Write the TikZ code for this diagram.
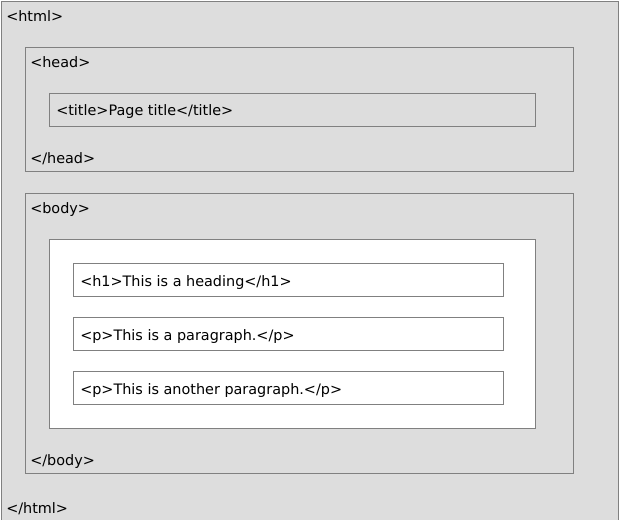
\documentclass[tikz,border=0pt]{standalone}
\usepackage{fontspec}
\setmainfont{DejaVu Sans}
\definecolor{boxgray}{HTML}{808080}
\definecolor{fillgray}{HTML}{DDDDDD}
\tikzset{
	box/.style={draw=boxgray, line width=0.75pt},
	tag/.style={anchor=base west, inner sep=0pt, font=\fontsize{10.8}{13}\selectfont, text=black}
}

\begin{document}
\begin{tikzpicture}[x=0.75pt, y=-0.75pt]
			%%%%% START %%%%%
			\useasboundingbox (0, 0) rectangle (622, 520);
			
			\draw[box, fill=fillgray] (1.5, 1.5) rectangle (618.5, 530);
			\node[tag] (htmlopen) at (6, 22) {<html>};
			\node[tag] (htmlclose) at (6, 513) {</html>};
			
			\draw[box] (25.5, 47.5) rectangle (573.5, 171.5);
			\node[tag] (headopen) at (30, 68) {<head>};
			\node[tag] (headclose) at (30, 164) {</head>};
			
			\draw[box] (49.5, 93.5) rectangle (535.5, 126.5);
			\node[tag] (title) at (56, 116) {<title>Page title</title>};
			
			\draw[box] (25.5, 193.5) rectangle (573.5, 473.5);
			\node[tag] (bodyopen) at (30, 214) {<body>};
			\node[tag] (bodyclose) at (30, 466) {</body>};
			
			\draw[box, fill=white] (49.5, 239.5) rectangle (535.5, 428.5);
			
			\draw[box] (73.5, 263.5) rectangle (503.5, 296.5);
			\node[tag] (heading) at (80, 287) {<h1>This is a heading</h1>};
			
			\draw[box] (73.5, 317.5) rectangle (503.5, 350.5);
			\node[tag] (para) at (80, 341) {<p>This is a paragraph.</p>};
			
			\draw[box] (73.5, 371.5) rectangle (503.5, 404.5);
			\node[tag] (parb) at (80, 395) {<p>This is another paragraph.</p>};
			
			%%%%% END %%%%%
\end{tikzpicture}
\end{document}
